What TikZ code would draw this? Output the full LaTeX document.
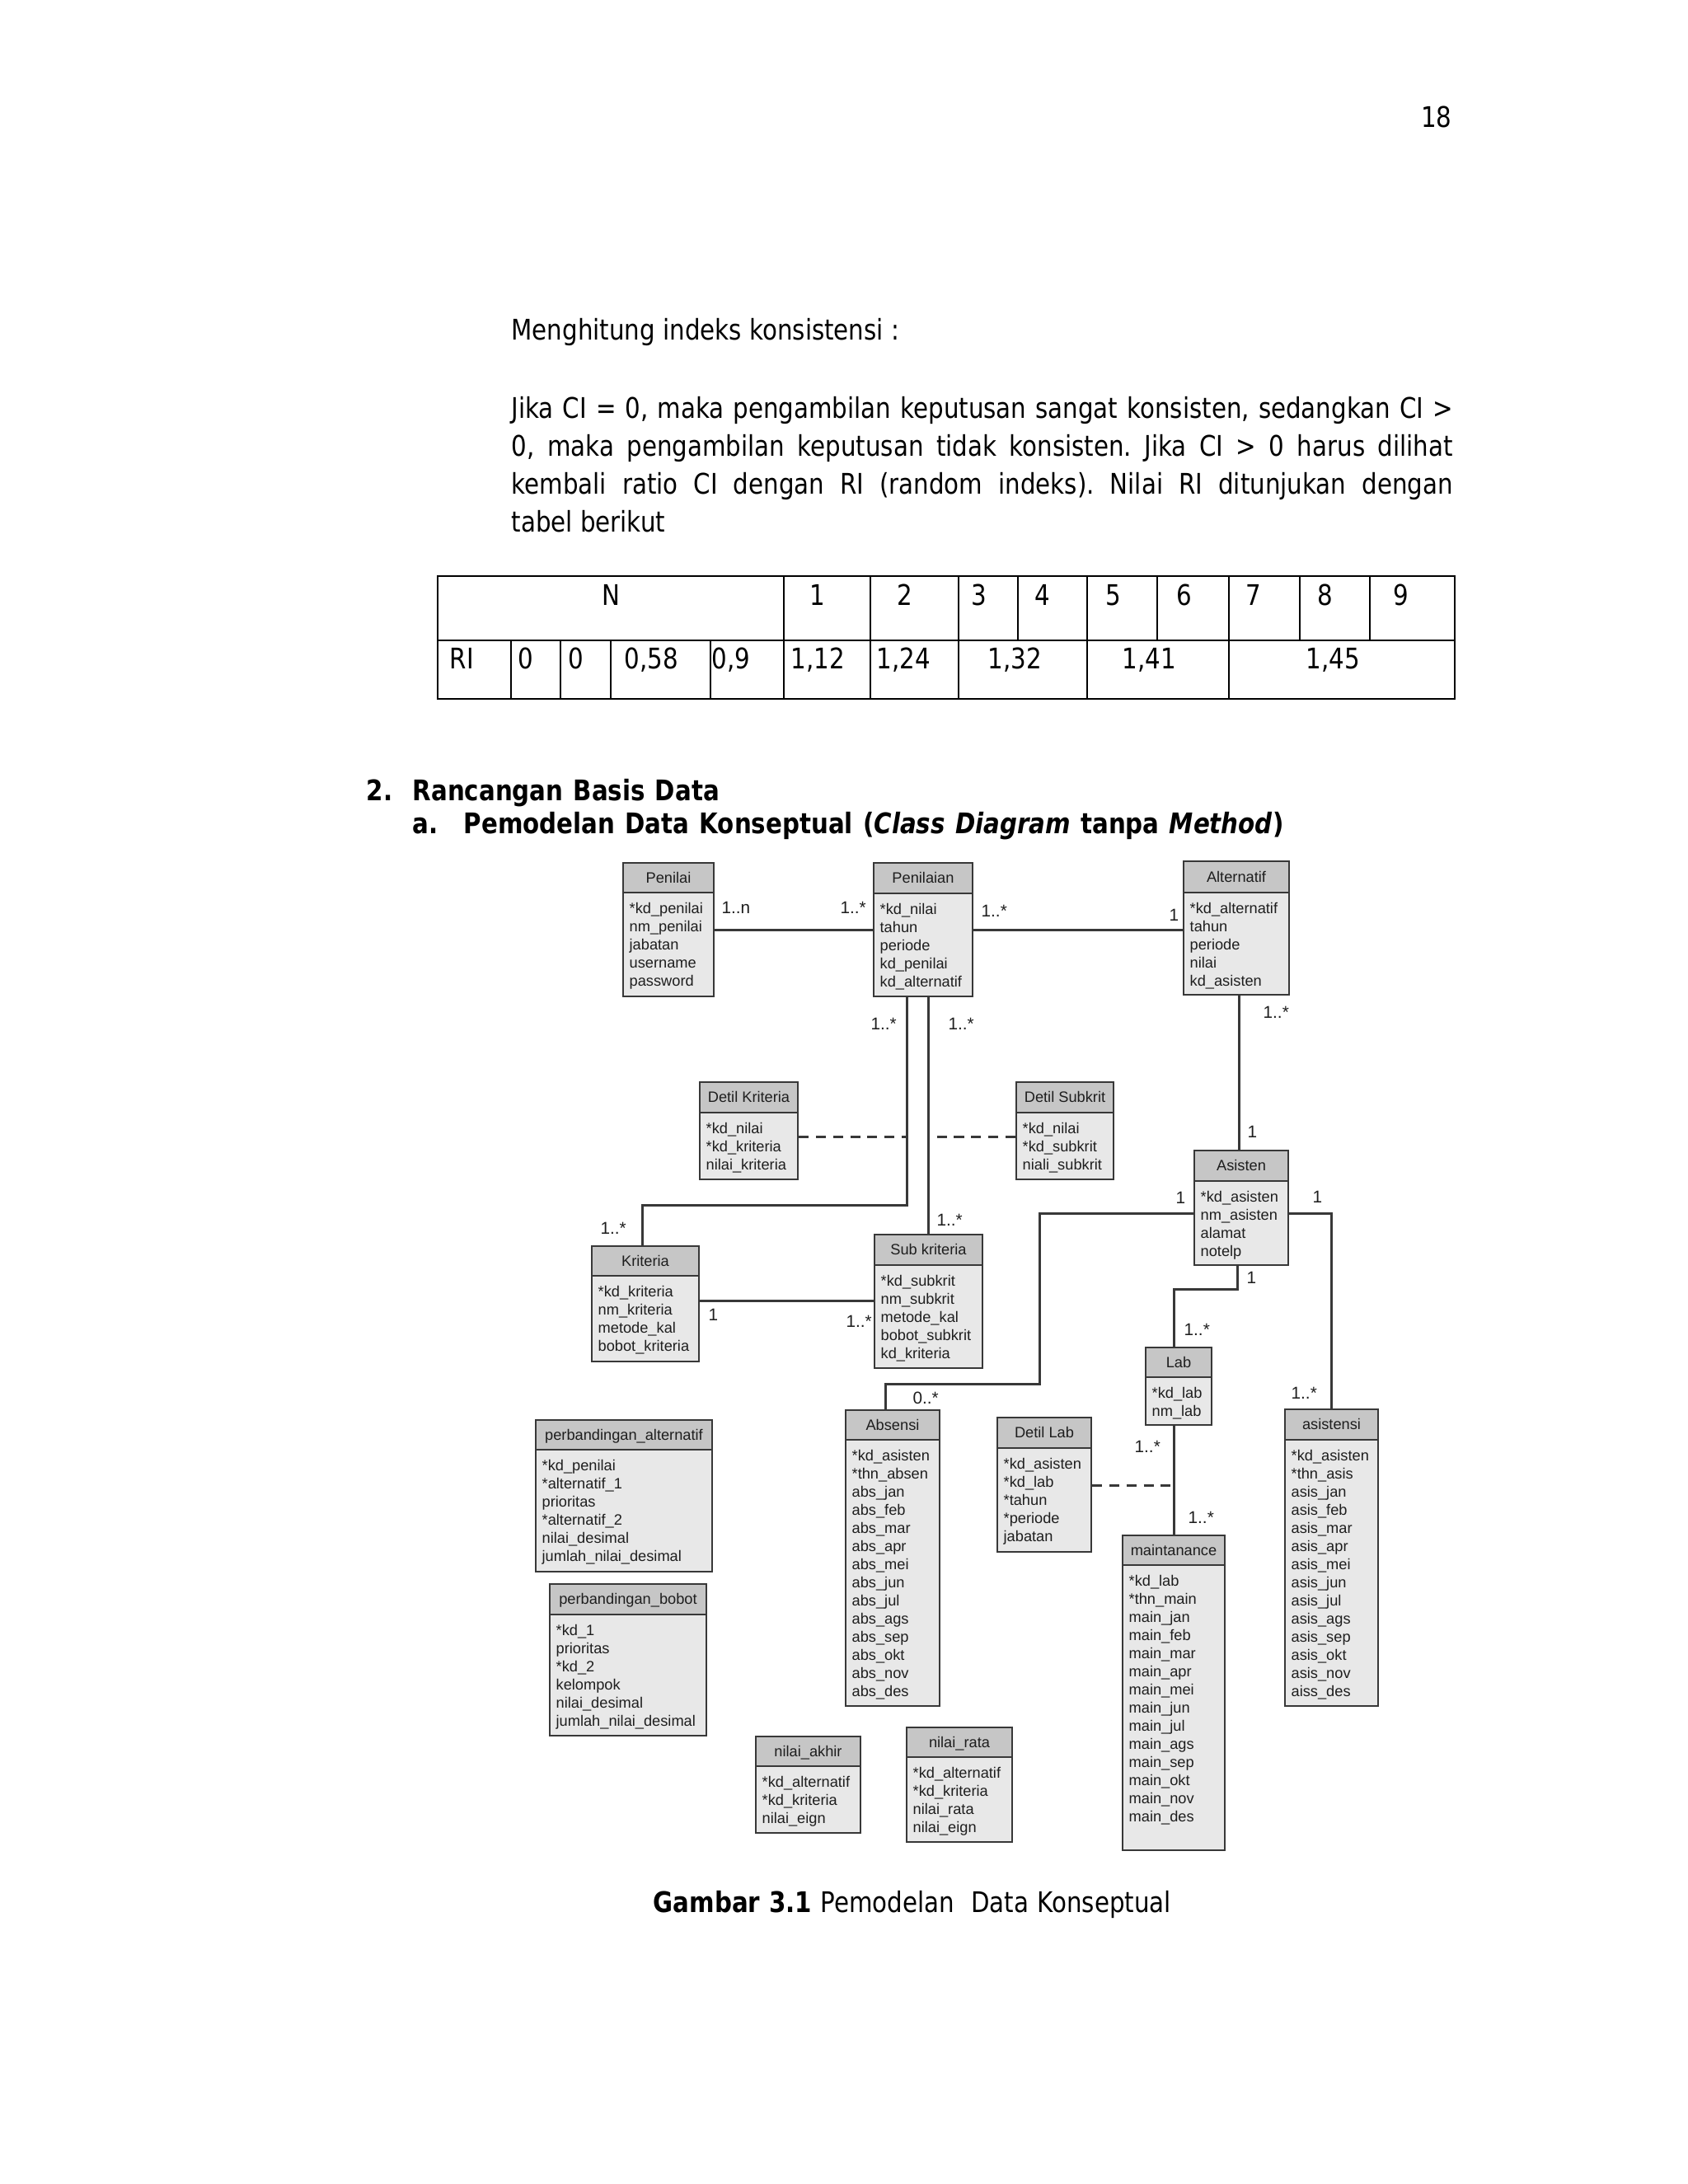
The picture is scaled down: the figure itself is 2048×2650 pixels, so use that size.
\documentclass[tikz,border=0pt]{standalone}
\usepackage{fontspec}
\setmainfont{DejaVu Sans}[FakeStretch=0.85]
\newfontfamily\diag{Liberation Sans}
\usetikzlibrary{fit}
\frenchspacing
\definecolor{hdr}{HTML}{C6C6C6}
\definecolor{bdy}{HTML}{E8E8E8}
\definecolor{edge}{HTML}{383838}
\definecolor{ink}{HTML}{1E1E1E}
\tikzset{
  body/.style={font=\fontsize{10.3}{13.75}\selectfont, inner sep=0pt, text=black},
  attr/.style={font=\diag\fontsize{5.45}{6.57}\selectfont, inner sep=0pt, text=ink},
  mult/.style={font=\diag\fontsize{6.2}{7}\selectfont, inner sep=0pt, anchor=base west, text=ink},
  conn/.style={draw=edge, line width=0.9pt},
  assoc/.style={draw=edge, line width=0.9pt, dash pattern=on 3.6pt off 2.6pt},
  frame/.style={draw=edge, line width=0.75pt, inner sep=0pt},
  tline/.style={draw=black, line width=0.45pt},
  tthick/.style={draw=black, line width=0.8pt}
}
\newcommand{\umlclass}[8]{%
  \fill[bdy] (#2,#5) rectangle (#3,#6);
  \fill[hdr] (#2,#4) rectangle (#3,#5);
  \draw[edge, line width=0.75pt] (#2,#5) -- (#3,#5);
  \node[frame, fit={(#2,#4) (#3,#6)}] (#1) {};
  \node[attr, anchor=base] (#1-t) at ({(#2+#3)/2},{(#4+#5)/2+6}) {#7};
  \foreach \a [count=\i] in {#8} {\node[attr, anchor=base west] (#1-\i) at (#2+7,{#5+25+(\i-1)*22}) {\a};}
}
\begin{document}
\begin{tikzpicture}[x=0.29883pt, y=-0.29883pt]
\useasboundingbox (0,0) rectangle (2048,2650);
\fill[white] (0,0) rectangle (2048,2650);

% page number and text
\node[body, anchor=base east] (pnum) at (1762,154) {18};
\node[body, anchor=base west] (l0) at (620,412) {Menghitung indeks konsistensi :};
\node[body, anchor=base west] (l1) at (620,507) {\hbox to 341.26pt{Jika CI = 0, maka pengambilan keputusan sangat konsisten, sedangkan CI >}};
\node[body, anchor=base west] (l2) at (620,553) {\hbox to 341.26pt{0, maka pengambilan keputusan tidak konsisten. Jika CI > 0 harus dilihat}};
\node[body, anchor=base west] (l3) at (620,599) {\hbox to 341.26pt{kembali ratio CI dengan RI (random indeks). Nilai RI ditunjukan dengan}};
\node[body, anchor=base west] (l4) at (620,645) {tabel berikut};

% table
\draw[tthick] (531,699) rectangle (1765,848);
\draw[tthick] (531,777) -- (1765,777);
\foreach \x in {951,1056,1163,1235,1319,1404,1491,1577,1662} \draw[tline] (\x,699) -- (\x,777);
\foreach \x in {620,680,741,862,951,1056,1163,1319,1491} \draw[tline] (\x,777) -- (\x,848);
\node[body, anchor=base] (tN) at (741,734) {N};
\foreach \x/\t [count=\k] in {982/1,1088/2,1178/3,1255/4,1341/5,1427/6,1511/7,1598/8,1690/9}
  \node[body, anchor=base west] (th\k) at (\x,734) {\t};
\foreach \x/\t [count=\k] in {545/RI,628/0,689/0,757/{0,58},863/{0,9},959/{1,12},1063/{1,24},1198/{1,32},1361/{1,41},1584/{1,45}}
  \node[body, anchor=base west] (tr\k) at (\x,811) {\t};

% headings
\node[body, anchor=base west] (h1n) at (444,971) {\bfseries 2.};
\node[body, anchor=base west] (h1) at (500,971) {\hbox to 111.2pt{\bfseries Rancangan Basis Data}};
\node[body, anchor=base west] (h2n) at (500,1011) {\bfseries a.};
\node[body, anchor=base west] (h2) at (562,1011) {\hbox to 297.3pt{\bfseries Pemodelan Data Konseptual (\textit{Class Diagram} tanpa \textit{Method})}};

% classes
\umlclass{Penilai}{756}{866}{1047}{1083}{1209}{Penilai}{*kd\_penilai,nm\_penilai,jabatan,username,password}
\umlclass{Penilaian}{1060}{1180}{1047}{1084}{1209}{Penilaian}{*kd\_nilai,tahun,periode,kd\_penilai,kd\_alternatif}
\umlclass{Alternatif}{1436}{1564}{1045}{1083}{1207}{Alternatif}{*kd\_alternatif,tahun,periode,nilai,kd\_asisten}
\umlclass{DetilKriteria}{849}{968}{1313}{1350}{1431}{Detil Kriteria}{*kd\_nilai,*kd\_kriteria,nilai\_kriteria}
\umlclass{DetilSubkrit}{1233}{1351}{1313}{1350}{1431}{Detil Subkrit}{*kd\_nilai,*kd\_subkrit,niali\_subkrit}
\umlclass{Asisten}{1449}{1563}{1396}{1433}{1535}{Asisten}{*kd\_asisten,nm\_asisten,alamat,notelp}
\umlclass{Kriteria}{718}{848}{1512}{1548}{1652}{Kriteria}{*kd\_kriteria,nm\_kriteria,metode\_kal,bobot\_kriteria}
\umlclass{SubKriteria}{1061}{1192}{1498}{1535}{1660}{Sub kriteria}{*kd\_subkrit,nm\_subkrit,metode\_kal,bobot\_subkrit,kd\_kriteria}
\umlclass{Lab}{1390}{1470}{1635}{1671}{1729}{Lab}{*kd\_lab,nm\_lab}
\umlclass{PerbAlt}{650}{864}{1723}{1759}{1907}{perbandingan\_alternatif}{*kd\_penilai,*alternatif\_1,prioritas,*alternatif\_2,nilai\_desimal,jumlah\_nilai\_desimal}
\umlclass{Absensi}{1026}{1140}{1711}{1747}{2070}{Absensi}{*kd\_asisten,*thn\_absen,abs\_jan,abs\_feb,abs\_mar,abs\_apr,abs\_mei,abs\_jun,abs\_jul,abs\_ags,abs\_sep,abs\_okt,abs\_nov,abs\_des}
\umlclass{DetilLab}{1210}{1324}{1720}{1757}{1883}{Detil Lab}{*kd\_asisten,*kd\_lab,*tahun,*periode,jabatan}
\umlclass{Asistensi}{1559}{1672}{1710}{1747}{2070}{asistensi}{*kd\_asisten,*thn\_asis,asis\_jan,asis\_feb,asis\_mar,asis\_apr,asis\_mei,asis\_jun,asis\_jul,asis\_ags,asis\_sep,asis\_okt,asis\_nov,aiss\_des}
\umlclass{Maint}{1362}{1486}{1863}{1899}{2245}{maintanance}{*kd\_lab,*thn\_main,main\_jan,main\_feb,main\_mar,main\_apr,main\_mei,main\_jun,main\_jul,main\_ags,main\_sep,main\_okt,main\_nov,main\_des}
\umlclass{PerbBobot}{667}{857}{1922}{1959}{2106}{perbandingan\_bobot}{*kd\_1,prioritas,*kd\_2,kelompok,nilai\_desimal,jumlah\_nilai\_desimal}
\umlclass{NilaiAkhir}{917}{1044}{2107}{2143}{2224}{nilai\_akhir}{*kd\_alternatif,*kd\_kriteria,nilai\_eign}
\umlclass{NilaiRata}{1100}{1228}{2096}{2132}{2235}{nilai\_rata}{*kd\_alternatif,*kd\_kriteria,nilai\_rata,nilai\_eign}

% connectors
\draw[conn] (Penilai.east |- 0,1128) -- (Penilaian.west |- 0,1128);
\draw[conn] (Penilaian.east |- 0,1128) -- (Alternatif.west |- 0,1128);
\draw[conn] (Penilaian.south -| 1100,0) -- (1100,1462) -| (Kriteria.north -| 779,0);
\draw[conn] (Penilaian.south -| 1126,0) -- (SubKriteria.north -| 1126,0);
\draw[assoc] (DetilKriteria.east |- 0,1379) -- (1100,1379);
\draw[assoc] (DetilSubkrit.west |- 0,1379) -- (1126,1379);
\draw[conn] (Alternatif.south -| 1503,0) -- (Asisten.north -| 1503,0);
\draw[conn] (Kriteria.east |- 0,1578) -- (SubKriteria.west |- 0,1578);
\draw[conn] (Asisten.west |- 0,1472) -- (1261,1472) -- (1261,1679) -| (Absensi.north -| 1074,0);
\draw[conn] (Asisten.east |- 0,1472) -| (Asistensi.north -| 1615,0);
\draw[conn] (Asisten.south -| 1501,0) -- (1501,1564) -| (Lab.north -| 1424,0);
\draw[conn] (Lab.south -| 1424,0) -- (Maint.north -| 1424,0);
\draw[assoc] (DetilLab.east |- 0,1802) -- (1424,1802);

% multiplicities
\node[mult] (m1) at (875,1108) {1..n};
\node[mult] (m2) at (1019,1108) {1..*};
\node[mult] (m3) at (1190,1112) {1..*};
\node[mult] (m4) at (1418,1117) {1};
\node[mult] (m5) at (1532,1235) {1..*};
\node[mult] (m6) at (1056,1249) {1..*};
\node[mult] (m7) at (1150,1249) {1..*};
\node[mult] (m8) at (1513,1380) {1};
\node[mult] (m9) at (728,1497) {1..*};
\node[mult] (m10) at (1136,1487) {1..*};
\node[mult] (m11) at (1426,1460) {1};
\node[mult] (m12) at (1592,1459) {1};
\node[mult] (m13) at (859,1602) {1};
\node[mult] (m14) at (1026,1610) {1..*};
\node[mult] (m15) at (1512,1557) {1};
\node[mult] (m16) at (1436,1620) {1..*};
\node[mult] (m17) at (1107,1703) {0..*};
\node[mult] (m18) at (1566,1697) {1..*};
\node[mult] (m19) at (1376,1762) {1..*};
\node[mult] (m20) at (1441,1848) {1..*};

% caption
\node[body, anchor=base west] (cap) at (792,2320) {\hbox to 187.7pt{\textbf{Gambar 3.1} Pemodelan\ \ Data Konseptual}};
\end{tikzpicture}
\end{document}
